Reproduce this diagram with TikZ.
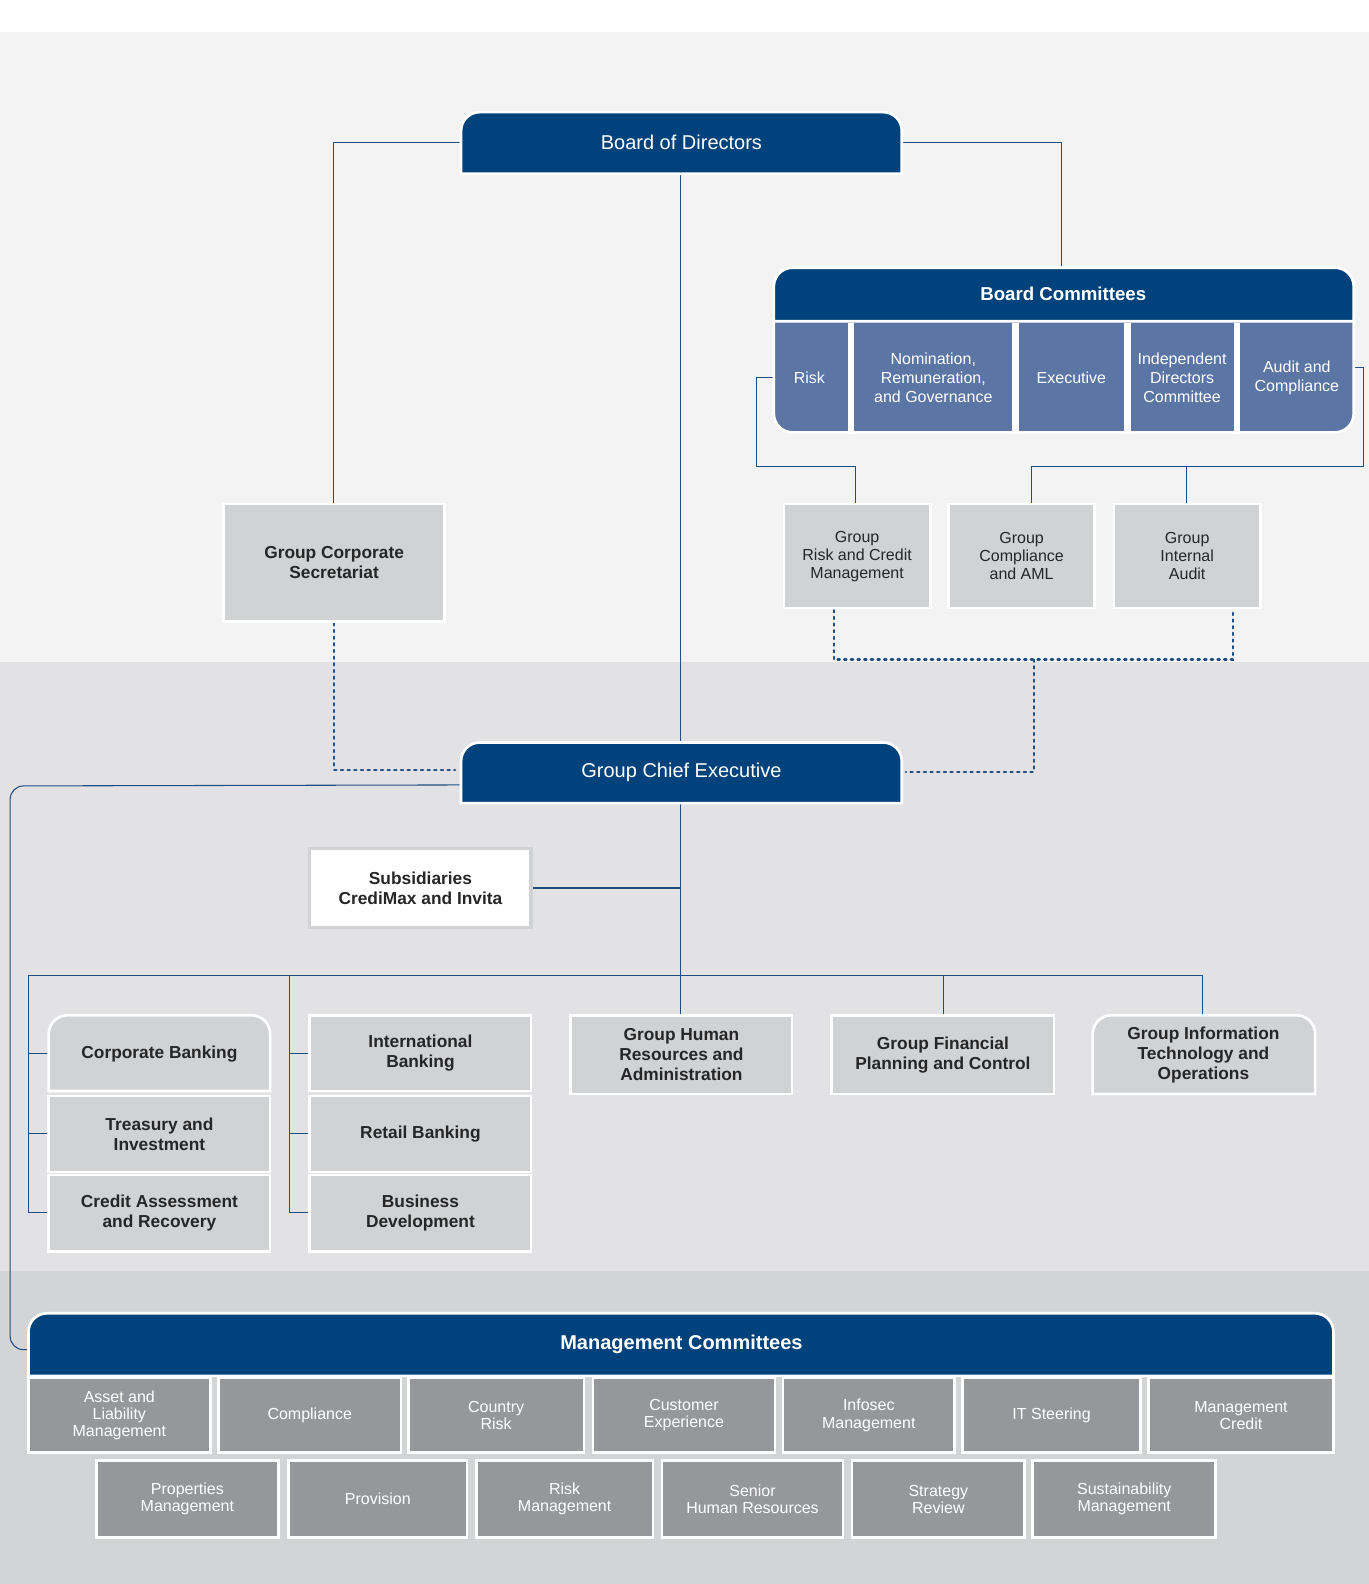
\documentclass[tikz,border=0pt]{standalone}
\usepackage{fontspec}
\setmainfont{Liberation Sans}
\definecolor{dblue}{HTML}{00427B}
\definecolor{mblue}{HTML}{5B76A5}
\definecolor{lnblue}{HTML}{1F4E85}
\definecolor{lgray}{HTML}{D1D2D4}
\definecolor{mgray}{HTML}{96979B}
\definecolor{bg1}{HTML}{F3F3F3}
\definecolor{bg2}{HTML}{E2E2E4}
\definecolor{bg3}{HTML}{D3D4D6}
\newcommand\bx[7]{\pgfmathsetmacro\bw{(#5-#3)*0.7617}\pgfmathsetmacro\bh{(#6-#4)*0.7577}%
\node[#1,minimum width=\bw pt,minimum height=\bh pt] (#2) at ({(#3+#5)/2},{(#4+#6)/2}) {#7};}
\begin{document}
\begin{tikzpicture}[x=0.7617pt,y=-0.7577pt,
 txt/.style={align=center,font=\fontsize{12}{14}\selectfont,text=black!85,inner sep=0},
 gbox/.style={draw=white,line width=2pt,fill=lgray,align=center,font=\fontsize{12}{13.5}\selectfont,text=black!85,inner sep=0},
 bbox/.style={gbox,font=\bfseries\fontsize{13}{15}\selectfont},
 mbox/.style={draw=white,line width=2pt,fill=mgray,align=center,font=\fontsize{12}{13}\selectfont,text=white,inner sep=0},
 cbox/.style={fill=mblue,align=center,font=\fontsize{12}{14}\selectfont,text=white,inner sep=0},
 hdr/.style={fill=dblue,draw=white,line width=2pt},
 htxt/.style={text=white,font=\fontsize{15}{17}\selectfont},
 ln/.style={draw=lnblue,line width=0.8pt},
 dt/.style={draw=lnblue,line width=1.8pt,dash pattern=on 1.6pt off 3.4pt,line cap=round}]
\useasboundingbox (0,0) rectangle (1348,1568);
\fill[white] (0,0) rectangle (1348,32);
\fill[bg1] (0,32) rectangle (1348,655);
\fill[bg2] (0,655) rectangle (1348,1258);
\fill[bg3] (0,1258) rectangle (1348,1568);
% connectors (drawn first)
\draw[ln] (454,141) -- (328,141) -- (328,499);
\draw[ln] (888,141) -- (1045,141) -- (1045,265);
\draw[ln] (670,172) -- (670,735);
\draw[ln] (762,374) -- (745,374) -- (745,462) -- (842,462) -- (842,499);
\draw[ln] (1333,364) -- (1343,364) -- (1343,462) -- (1016,462) -- (1016,499);
\draw[ln] (1168,462) -- (1168,499);
\draw[dt] (821,604) -- (821,653) -- (1214,653) -- (1214,604);
\draw[dt] (1018,653) -- (1018,764) -- (892,764);
\draw[dt] (329,617) -- (329,762) -- (448,762);
\draw[ln,rounded corners=10] (454,777) -- (10,778) -- (10,1336) -- (28,1336);
\draw[ln] (670,795) -- (670,1005);
\draw[ln] (523,879) -- (670,879);
\draw[ln] (28,1200) -- (28,966) -- (1184,966) -- (1184,1005);
\draw[ln] (929,966) -- (929,1005);
\draw[ln] (285,966) -- (285,1200);
\foreach \yy in {1043,1122,1200} {\draw[ln] (28,\yy) -- (48,\yy); \draw[ln] (285,\yy) -- (305,\yy);}
% Board of Directors
\path[hdr,rounded corners=14] (454,172) -- (454,111) -- (888,111) [sharp corners] -- (888,172) -- cycle;
\node[htxt] (bod) at (671,141) {Board of Directors};
% Board committees
\path[fill=mblue,draw=white,line width=2pt,rounded corners=14] (762,265) rectangle (1333,428);
\path[hdr,rounded corners=14] (762,318) -- (762,265) -- (1333,265) [sharp corners] -- (1333,318) -- cycle;
\node[htxt,font=\bfseries\fontsize{14}{16}\selectfont] (bc) at (1047,291) {Board Committees};
\foreach \xx in {838,1000,1110,1218} {\draw[white,line width=5pt] (\xx,320) -- (\xx,430);}
\node[cbox] (c1) at (797,374) {Risk};
\node[cbox] (c2) at (919,374) {Nomination,\\Remuneration,\\and Governance};
\node[cbox] (c3) at (1055,374) {Executive};
\node[cbox] (c4) at (1164,374) {Independent\\Directors\\Committee};
\node[cbox] (c5) at (1277,374) {Audit and\\Compliance};
% middle boxes
\bx{bbox}{gcs}{220}{499}{438}{615}{Group Corporate\\Secretariat}
\bx{gbox}{grc}{772}{499}{916}{602}{Group\\Risk and Credit\\Management}
\bx{gbox}{gca}{934}{499}{1078}{602}{Group\\Compliance\\and AML}
\bx{gbox}{gia}{1097}{499}{1241}{602}{Group\\Internal\\Audit}
% GCE
\path[hdr,rounded corners=14] (454,795) -- (454,735) -- (888,735) [sharp corners] -- (888,795) -- cycle;
\node[htxt] (gce) at (671,765) {Group Chief Executive};
\bx{bbox,fill=white,draw=lgray,line width=2.5pt}{sub}{305}{840}{523}{918}{Subsidiaries\\CrediMax and Invita}
% business units
\path[fill=lgray,draw=white,line width=2pt,rounded corners=14] (48,1080) -- (48,1005) -- (266,1005) [sharp corners] -- (266,1080) -- cycle;
\node[txt,font=\bfseries\fontsize{13}{15}\selectfont] (cb) at (157,1043) {Corporate Banking};
\bx{bbox}{ti}{48}{1085}{266}{1160}{Treasury and\\Investment}
\bx{bbox}{car}{48}{1163}{266}{1239}{Credit Assessment\\and Recovery}
\bx{bbox}{ib}{305}{1005}{523}{1080}{International\\Banking}
\bx{bbox}{rb}{305}{1085}{523}{1160}{Retail Banking}
\bx{bbox}{bd}{305}{1163}{523}{1239}{Business\\Development}
\bx{bbox}{ghr}{562}{1005}{780}{1083}{Group Human\\Resources and\\Administration}
\bx{bbox}{gfp}{819}{1005}{1038}{1083}{Group Financial\\Planning and Control}
\path[fill=lgray,draw=white,line width=2pt,rounded corners=14] (1076,1083) -- (1076,1005) -- (1295,1005) [sharp corners] -- (1295,1083) -- cycle;
\node[txt,font=\bfseries\fontsize{13}{15}\selectfont] (git) at (1185,1044) {Group Information\\Technology and\\Operations};
% management committees
\path[hdr,rounded corners=14] (28,1362) -- (28,1300) -- (1313,1300) [sharp corners] -- (1313,1362) -- cycle;
\node[htxt,font=\bfseries\fontsize{15}{17}\selectfont] (mc) at (671,1331) {Management Committees};
\bx{mbox}{m1}{28}{1364}{207}{1438}{Asset and\\Liability\\Management}
\bx{mbox}{m2}{215}{1364}{395}{1438}{Compliance}
\bx{mbox}{m3}{402}{1364}{575}{1438}{Country\\Risk}
\bx{mbox}{m4}{584}{1364}{763}{1438}{Customer\\Experience}
\bx{mbox}{m5}{771}{1364}{940}{1438}{Infosec\\Management}
\bx{mbox}{m6}{948}{1364}{1123}{1438}{IT Steering}
\bx{mbox}{m7}{1131}{1364}{1313}{1438}{Management\\Credit}
\bx{mbox}{n1}{95}{1446}{274}{1522}{Properties\\Management}
\bx{mbox}{n2}{284}{1446}{460}{1522}{Provision}
\bx{mbox}{n3}{469}{1446}{643}{1522}{Risk\\Management}
\bx{mbox}{n4}{652}{1446}{830}{1522}{Senior\\Human Resources}
\bx{mbox}{n5}{839}{1446}{1009}{1522}{Strategy\\Review}
\bx{mbox}{n6}{1017}{1446}{1197}{1522}{Sustainability\\Management}
\end{tikzpicture}
\end{document}
